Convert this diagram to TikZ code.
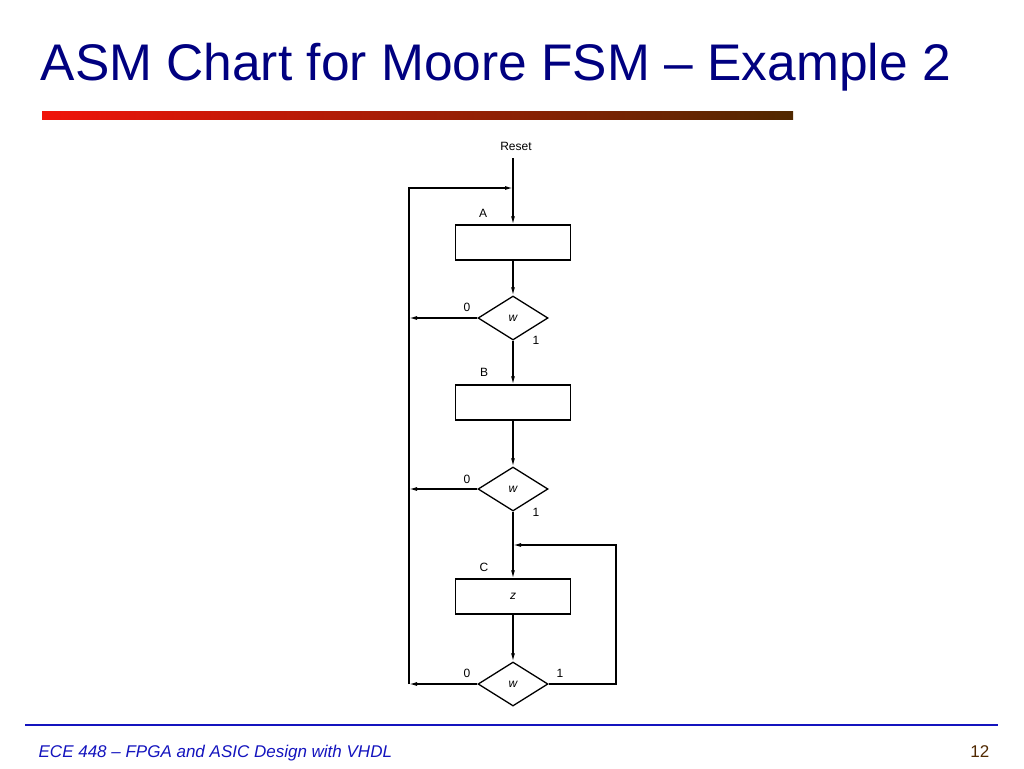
\documentclass[tikz,border=0pt]{standalone}
\usepackage{fontspec}
\setmainfont{Liberation Sans}
\usetikzlibrary{shapes.geometric,arrows.meta}
\definecolor{titleblue}{RGB}{0,0,128}
\definecolor{barred}{RGB}{240,20,10}
\definecolor{barbrown}{RGB}{80,40,0}
\definecolor{footblue}{RGB}{20,20,190}
\begin{document}
\begin{tikzpicture}[x=1pt,y=-1pt,line width=1.3pt]
\tikzset{
  statebox/.style={draw,minimum width=115pt,minimum height=35pt,inner sep=0pt,font=\fontsize{12}{14}\selectfont},
  cond/.style={draw,diamond,aspect=1.6,minimum width=70pt,minimum height=44pt,inner sep=0pt,font=\fontsize{12}{14}\selectfont\itshape},
  lbl/.style={font=\fontsize{12}{14}\selectfont,inner sep=0pt},
  flow/.style={-{Latex[length=8pt,width=4pt]}}
}
\useasboundingbox (0,0) rectangle (1024,768);
% title and bars
\node[anchor=base west,inner sep=0pt,text=titleblue,font=\fontsize{51.5}{56}\selectfont] (title) at (40,80) {ASM Chart for Moore FSM -- Example 2};
\shade[left color=barred,right color=barbrown] (42,111) rectangle (793,119);
\draw[footblue,line width=2.5pt] (25,725) -- (998,725);
\node[anchor=base west,inner sep=0pt,text=footblue,font=\fontsize{17}{20}\selectfont\itshape] (foot) at (38,757) {ECE 448 -- FPGA and ASIC Design with VHDL};
\node[anchor=base east,inner sep=0pt,text=barbrown,font=\fontsize{17}{20}\selectfont] (page) at (990,757) {12};
% chart
\node[lbl] (reset) at (516,146) {Reset};
\coordinate (rs) at (513,158);
\node[statebox] (A) at (513,242.5) {};
\node[lbl] (la) at (483,213) {A};
\node[cond] (w1) at (513,318) {w};
\node[statebox] (B) at (513,402.5) {};
\node[lbl] (lb) at (484,372) {B};
\node[cond] (w2) at (513,489) {w};
\node[statebox] (C) at (513,596.5) {\itshape z};
\node[lbl] (lc) at (484,567) {C};
\node[cond] (w3) at (513,684) {w};
\node[lbl] at (467,307) {0};
\node[lbl] at (536,340) {1};
\node[lbl] at (467,479) {0};
\node[lbl] at (536,512) {1};
\node[lbl] at (467,673) {0};
\node[lbl] at (560,673) {1};
\coordinate (j1) at (513,188);
\coordinate (j2) at (513,545);
\coordinate (lft) at (409,684);
\draw[flow] (rs) -- (A.north);
\draw[flow] (A.south) -- (w1.north);
\draw[flow] (w1.south) -- (B.north);
\draw[flow] (B.south) -- (w2.north);
\draw[flow] (w2.south) -- (C.north);
\draw[flow] (C.south) -- (w3.north);
\draw[flow] (w1.west) -- (409,318);
\draw[flow] (w2.west) -- (409,489);
\draw[flow] (w3.west) -- (lft);
\draw[flow] (lft) -- (409,188) -- (j1);
\draw[flow] (w3.east) -- (616,684) -- (616,545) -- (j2);
\end{tikzpicture}
\end{document}
